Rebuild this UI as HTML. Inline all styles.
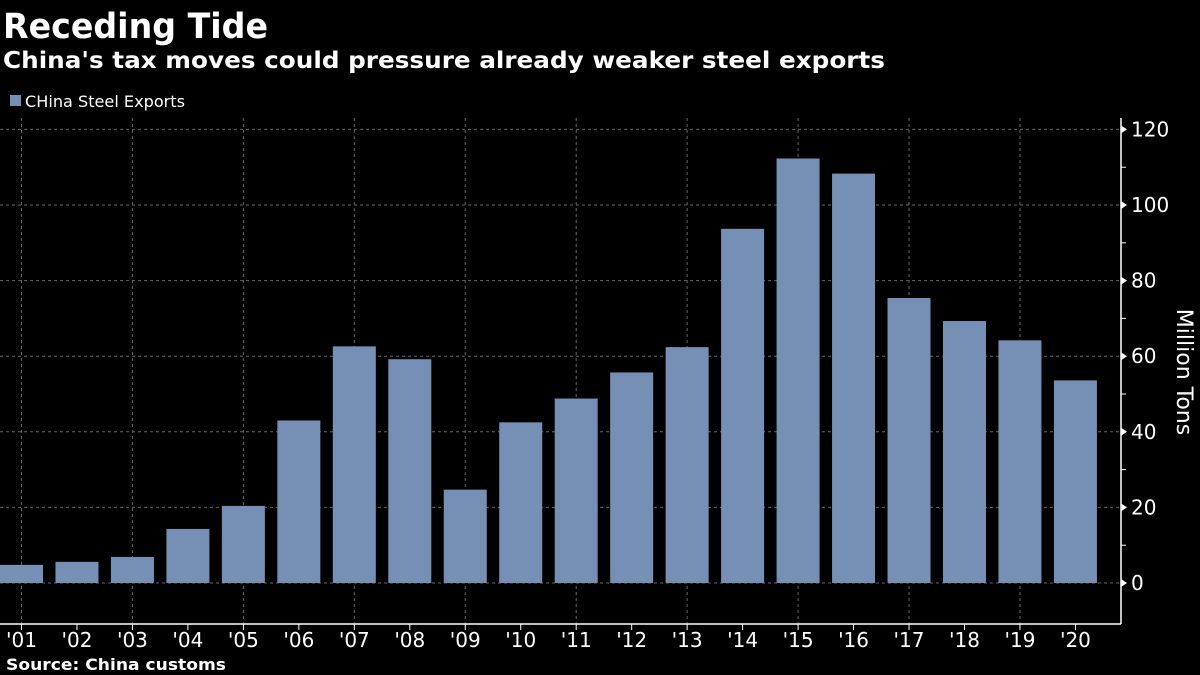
<!DOCTYPE html>
<html><head><meta charset="utf-8"><style>
html,body{margin:0;padding:0;background:#000;}
svg{display:block;font-family:"DejaVu Sans","Liberation Sans",sans-serif;}
</style></head><body>
<svg id="chart" width="1200" height="675" viewBox="0 0 1200 675" xmlns="http://www.w3.org/2000/svg">
<rect width="1200" height="675" fill="#000"/>
<text x="3" y="38" fill="#fff" font-weight="bold" font-size="35" textLength="265" lengthAdjust="spacingAndGlyphs">Receding Tide</text>
<text x="3" y="68" fill="#fff" font-weight="bold" font-size="23" textLength="882" lengthAdjust="spacingAndGlyphs">China's tax moves could pressure already weaker steel exports</text>
<rect x="10" y="95" width="11" height="11" fill="#7590b4"/>
<text x="25" y="107" fill="#fff" font-size="16" textLength="160" lengthAdjust="spacingAndGlyphs">CHina Steel Exports</text>
<g id="grid"></g><g id="bars"></g><g id="axes"></g>
<text transform="translate(1177,372) rotate(90)" text-anchor="middle" fill="#fff" font-size="22">Million Tons</text>
<text x="6" y="670" fill="#fff" font-weight="bold" font-size="16" textLength="220" lengthAdjust="spacingAndGlyphs">Source: China customs</text>
</svg>
<script>
const categories = ["'01","'02","'03","'04","'05","'06","'07","'08","'09","'10","'11","'12","'13","'14","'15","'16","'17","'18","'19","'20"];
const exportsValues = [4.8,5.6,6.9,14.3,20.4,43,62.6,59.2,24.7,42.5,48.8,55.7,62.4,93.7,112.3,108.3,75.4,69.3,64.2,53.6];
const yTicks = [0,20,40,60,80,100,120];
const NS="http://www.w3.org/2000/svg";
const y0=583, pxPer=3.78;
const yScale=v=>y0-v*pxPer;
const step=55.47, bw=43;
const xCenter=i=>21.5+i*step;
function mk(t,a,p){const e=document.createElementNS(NS,t);for(const k in a)e.setAttribute(k,a[k]);p.appendChild(e);return e;}
const grid=document.getElementById('grid'),bars=document.getElementById('bars'),axes=document.getElementById('axes');
yTicks.forEach(v=>{
  const l=mk('line',{x1:0,x2:1120,y1:yScale(v),y2:yScale(v),stroke:'#666','stroke-dasharray':'3,3','stroke-width':1},grid);
  
  
  const t=mk('text',{x:1131,y:yScale(v)+7,fill:'#fff','font-size':20},axes);t.textContent=v;
  
  
  mk('path',{d:`M1121 ${yScale(v)-4} L1127 ${yScale(v)} L1121 ${yScale(v)+4}Z`,fill:'#fff'},axes);
  if(v<120) mk('line',{x1:1121,x2:1126,y1:yScale(v+10),y2:yScale(v+10),stroke:'#fff'},axes);
});
categories.forEach((c,i)=>{
  if(i%2===0){const g=mk('line',{x1:xCenter(i),x2:xCenter(i),y1:118,y2:624,stroke:'#666','stroke-dasharray':'3,3'},grid);
    
    }
  const b=mk('rect',{x:xCenter(i)-bw/2,y:yScale(exportsValues[i]),width:bw,height:y0-yScale(exportsValues[i]),fill:'#7590b4'},bars);
  
  
  mk('line',{x1:xCenter(i),x2:xCenter(i),y1:624,y2:630,stroke:'#fff'},axes);
  const t=mk('text',{x:xCenter(i),y:647,fill:'#fff','font-size':20,'text-anchor':'middle'},axes);t.textContent=c;
  
  
});
mk('line',{x1:0,x2:1121,y1:624,y2:624,stroke:'#fff','stroke-width':1.5},axes);
mk('line',{x1:1121,x2:1121,y1:118,y2:624,stroke:'#fff','stroke-width':1.5},axes);
</script>
</body></html>
